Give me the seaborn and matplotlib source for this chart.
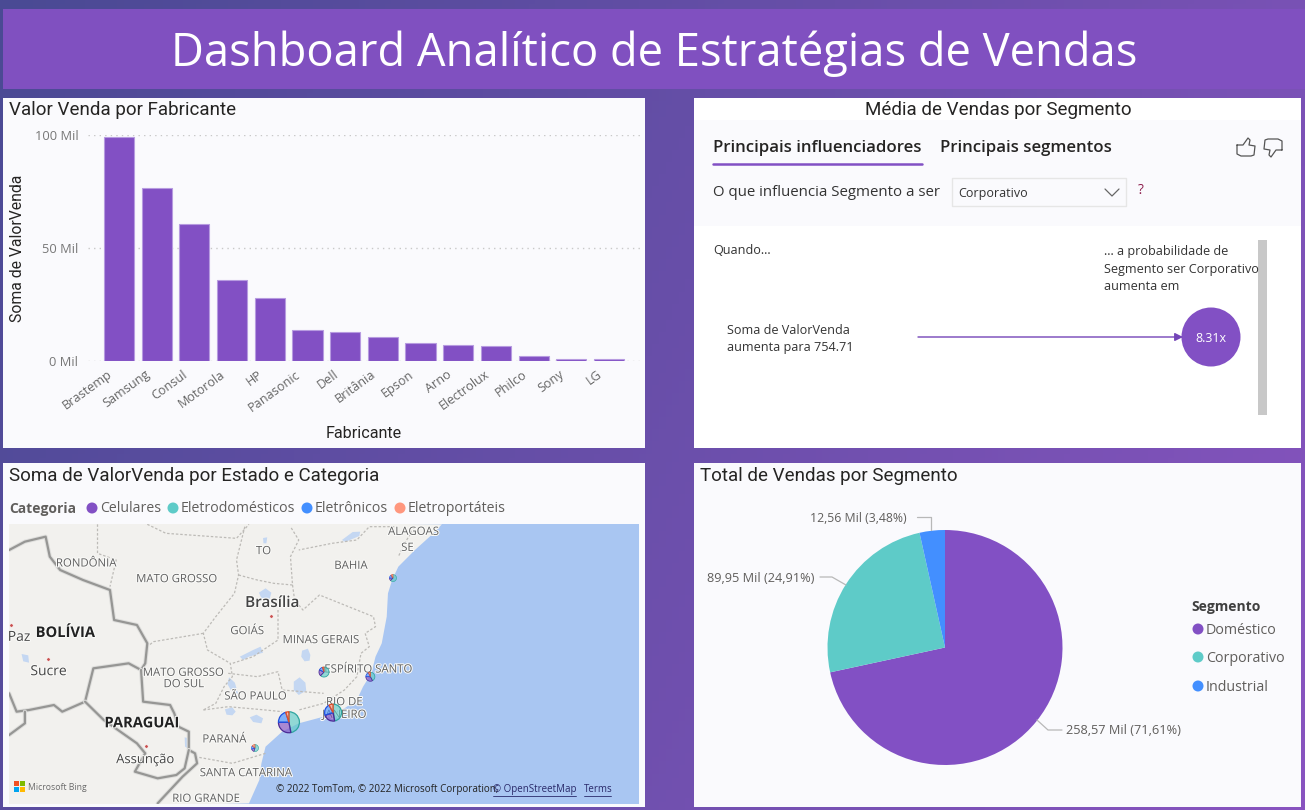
import numpy as np
import pandas as pd
import matplotlib.pyplot as plt
import matplotlib.patheffects as pe
from matplotlib.colors import LinearSegmentedColormap, to_rgba
from matplotlib.patches import Circle, Rectangle
from matplotlib.transforms import ScaledTranslation
import seaborn as sns

W, H = 1305, 810

# bar chart
fabricantes = ["Brastemp", "Samsung", "Consul", "Motorola", "HP", "Panasonic", "Dell",
               "Britânia", "Epson", "Arno", "Electrolux", "Philco", "Sony", "LG"]
valor_venda = [99100, 76400, 60600, 35700, 27700, 13700, 12800,
               10500, 8000, 6900, 6800, 2100, 900, 800]
y_ticks = [0, 50000, 100000]
y_tick_labels = ["0 Mil", "50 Mil", "100 Mil"]

# segment pie
segmentos = ["Doméstico", "Corporativo", "Industrial"]
segmento_pct = [71.61, 24.91, 3.48]
segmento_labels = ["258,57 Mil (71,61%)", "89,95 Mil (24,91%)", "12,56 Mil (3,48%)"]

# map pies, order is eletrodomesticos, celulares, eletronicos, eletroportateis
categorias = ["Celulares", "Eletrodomésticos", "Eletrônicos", "Eletroportáteis"]
estados = ["São Paulo", "Rio de Janeiro", "Minas Gerais", "Espírito Santo", "Bahia", "Paraná"]
estado_lon = [-46.6, -43.4, -44.06, -40.7, -39.06, -49.06]
estado_lat = [-23.5, -22.8, -19.86, -20.2, -13.05, -25.37]
estado_raio = [10.5, 8.5, 5, 4.5, 3.5, 3.5]
estado_eletrodom = [47, 47, 62, 42, 62, 55]
estado_celulares = [28, 23, 20, 33, 13, 15]
estado_eletronicos = [20, 22, 13, 18, 15, 15]
estado_eletroport = [5, 8, 5, 7, 10, 15]

ROXO = "#8250C4"
TEAL = "#5ECBC8"
AZUL = "#438FFF"
SALMAO = "#FF977E"
PAINEL = "#FAFAFD"
TXT = "#333333"
CINZA = "#605E5C"

# map scenery, points taken from the zoomed crop (x/2.41, 460+y/3)
costa = [(1065, 193), (1040, 225), (1000, 270), (960, 320), (945, 360), (935, 400), (932, 470),
         (920, 550), (905, 590), (895, 640), (875, 680), (860, 720), (830, 745), (780, 770),
         (720, 790), (680, 815), (640, 860), (630, 910), (625, 960), (600, 1030)]
fronteiras = [
    [(22, 270), (60, 245), (110, 230), (120, 290), (145, 330), (200, 360), (265, 390), (275, 480),
     (330, 495), (355, 550), (350, 610), (340, 630), (310, 610), (225, 625), (205, 725),
     (150, 755), (130, 735), (70, 750), (40, 755), (22, 700)],
    [(340, 630), (345, 725), (410, 735), (420, 760), (430, 800), (455, 815), (455, 870), (470, 880),
     (475, 910), (440, 950), (380, 1030)],
    [(205, 725), (250, 780), (330, 850), (350, 880), (325, 935), (380, 955), (425, 945), (445, 925), (455, 870)],
    [(22, 825), (60, 790), (60, 755)],
]
divisas = [
    [(235, 193), (235, 280), (280, 300), (265, 380)],
    [(355, 193), (400, 220), (570, 235), (600, 193)],
    [(590, 200), (570, 300), (575, 345), (565, 400), (520, 470), (490, 520), (500, 570), (555, 610),
     (560, 650), (540, 680), (520, 730), (490, 750)],
    [(575, 345), (620, 360), (660, 370), (705, 375), (700, 290), (720, 240), (700, 200)],
    [(705, 375), (710, 420), (730, 450), (770, 405), (830, 435), (900, 470), (905, 500), (880, 520),
     (890, 560), (870, 580), (860, 650), (830, 690), (780, 730), (720, 750)],
    [(490, 520), (370, 545), (355, 560)],
    [(550, 640), (620, 650), (670, 635), (680, 690), (780, 700)],
    [(490, 750), (550, 740), (640, 750), (680, 755)],
    [(470, 890), (560, 910), (640, 880)],
    [(670, 450), (670, 540), (610, 590), (560, 610)],
    [(950, 200), (890, 200), (860, 240), (800, 250), (720, 270)],
    [(1000, 200), (975, 250), (960, 290)],
]
lagos = [
    [(728, 572), (742, 566), (748, 585), (746, 602), (734, 604), (726, 590)],
    [(708, 665), (722, 652), (736, 668), (738, 692), (720, 705), (708, 690)],
    [(552, 652), (566, 668), (574, 702), (558, 694), (548, 672)],
    [(602, 772), (618, 764), (634, 775), (630, 790), (610, 786)],
    [(578, 590), (610, 570), (628, 560), (634, 578), (600, 590), (586, 600)],
    [(624, 398), (640, 385), (654, 398), (650, 416), (632, 420)],
    [(824, 240), (850, 216), (868, 215), (866, 228), (832, 246)],
    [(634, 234), (644, 232), (642, 250), (635, 250)],
    [(542, 748), (560, 742), (568, 755), (560, 766), (546, 764)],
    [(445, 832), (458, 836), (456, 868), (446, 860)],
    [(52, 582), (68, 586), (70, 608), (56, 604)],
]
mapa_textos = [
    ("ALAGOAS", 997, 217, 8.2, "#5f5f5f", "normal"), ("SE", 982, 265, 8.2, "#5f5f5f", "normal"),
    ("TO", 635, 275, 8.2, "#5f5f5f", "normal"), ("BAHIA", 846, 319, 8.2, "#5f5f5f", "normal"),
    ("RONDÔNIA", 208, 312, 8.2, "#5f5f5f", "normal"), ("MATO GROSSO", 426, 359, 8.2, "#5f5f5f", "normal"),
    ("Brasília", 656, 429, 11, "#444444", "semibold"), ("GOIÁS", 596, 515, 8.2, "#5f5f5f", "normal"),
    ("MINAS GERAIS", 774, 542, 8.2, "#5f5f5f", "normal"), ("BOLÍVIA", 158, 519, 10.6, "#222222", "bold"),
    ("Paz", 46, 532, 10, "#444444", "normal"), ("Sucre", 117, 635, 10, "#444444", "normal"),
    ("MATO GROSSO", 442, 640, 8.2, "#5f5f5f", "normal"), ("DO SUL", 443, 674, 8.2, "#5f5f5f", "normal"),
    ("ESPÍRITO SANTO", 888, 630, 8.2, "#5f5f5f", "normal"), ("SÃO PAULO", 616, 711, 8.2, "#5f5f5f", "normal"),
    ("RIO DE", 830, 728, 8.2, "#5f5f5f", "normal"), ("JANEIRO", 830, 766, 8.2, "#5f5f5f", "normal"),
    ("PARAGUAI", 342, 790, 10.6, "#222222", "bold"), ("PARANÁ", 541, 840, 8.2, "#5f5f5f", "normal"),
    ("Assunção", 350, 899, 9.4, "#444444", "normal"), ("SANTA CATARINA", 593, 941, 8.2, "#5f5f5f", "normal"),
    ("RIO GRANDE", 497, 1018, 8.2, "#5f5f5f", "normal"),
]
cidades = [(654, 468), (26, 496), (116, 597), (352, 857)]


def zx(x):
    return x / 2.41


def zy(y):
    return 460 + y / 3


def px_axes(x, y, w, h, zorder=1):
    a = fig.add_axes([x / W, 1 - (y + h) / H, w / W, h / H], zorder=zorder)
    return a


sns.set_theme(style="white")
plt.rcParams["font.family"] = ["Open Sans", "DejaVu Sans"]
plt.rcParams["axes.unicode_minus"] = False

fig = plt.figure(figsize=(W / 100, H / 100), dpi=100)

# background with gradient
bg = px_axes(0, 0, W, H, zorder=0)
cmap_bg = LinearSegmentedColormap.from_list("fundo", ["#4A4A94", "#9055C5"])
xx, yy = np.meshgrid(np.linspace(0, 1, 200), np.linspace(0, 1, 200))
bg.imshow(xx * 0.67 + yy * 0.22, cmap=cmap_bg, extent=(0, W, H, 0), aspect="auto", vmin=0, vmax=1)
bg.set_xlim(0, W)
bg.set_ylim(H, 0)
bg.axis("off")

# banner
bg.add_patch(Rectangle((3, 9), W - 3, 80, color="#8050C0", lw=0))

# panels
bg.add_patch(Rectangle((3, 98), 642, 350, color=PAINEL, lw=0))
bg.add_patch(Rectangle((694, 98), 607, 22, color="white", lw=0))
bg.add_patch(Rectangle((694, 120), 607, 106, color=PAINEL, lw=0))
bg.add_patch(Rectangle((694, 226), 607, 222, color="white", lw=0))
bg.add_patch(Rectangle((3, 463), 642, 344, color=PAINEL, lw=0))
bg.add_patch(Rectangle((694, 463), 607, 344, color=PAINEL, lw=0))

# map scenery
bg.add_patch(Rectangle((9, 524), 630, 280, color="#A9C6F2", lw=0))
clip = Rectangle((9, 524), 630, 280, transform=bg.transData)
terra = [(zx(x), zy(y)) for x, y in costa] + [(0, 810), (0, 520)]
land = bg.fill(*zip(*terra), color="#F2F1EE", lw=0)[0]
land.set_clip_path(clip)
for lago in lagos:
    lk = bg.fill([zx(p[0]) for p in lago], [zy(p[1]) for p in lago], color="#C4D7F2", lw=0)[0]
    lk.set_clip_path(clip)
for linha in divisas:
    ln, = bg.plot([zx(p[0]) for p in linha], [zy(p[1]) for p in linha], color="#BDBBB7", lw=0.9, ls=(0, (2, 1.5)))
    ln.set_clip_path(clip)
for linha in fronteiras:
    ln, = bg.plot([zx(p[0]) for p in linha], [zy(p[1]) for p in linha], color="#969694", lw=1.6,
                  path_effects=[pe.Stroke(linewidth=3, foreground="#DEDEDC"), pe.Normal()])
    ln.set_clip_path(clip)
for cx, cy in cidades:
    bg.plot(zx(cx), zy(cy), "o", color="#C9504F", ms=2.5, mec="white", mew=0.4)
for txt, tx, ty, fs, cor, peso in mapa_textos:
    bg.text(zx(tx), zy(ty), txt, fontsize=fs, color=cor, weight=peso, ha="center", va="center",
            clip_on=True, path_effects=[pe.withStroke(linewidth=1.5, foreground="#FAFAF8")])
# bing logo
for (qx, qy, qc) in [(14, 781, "#F25022"), (19.5, 781, "#7FBA00"), (14, 786.5, "#00A4EF"), (19.5, 786.5, "#FFB900")]:
    bg.add_patch(Rectangle((qx, qy), 5, 5, color=qc, lw=0))
bg.text(28, 787, "Microsoft Bing", fontsize=6.2, color="#6a6a6a", va="center")
bg.text(276, 789.5, "© 2022 TomTom, © 2022 Microsoft Corporation, ", fontsize=7.1, color="#222222", va="center")
bg.text(493, 789.5, "© OpenStreetMap", fontsize=7, color="#2a2a6a", va="center")
bg.plot([493, 576], [796, 796], color="#2a2a6a", lw=0.6)
bg.text(584, 789.5, "Terms", fontsize=7, color="#2a2a6a", va="center")
bg.plot([584, 611], [796, 796], color="#2a2a6a", lw=0.6)

# bars
df = pd.DataFrame({"Fabricante": fabricantes, "ValorVenda": valor_venda})
ax = px_axes(88, 135, 552, 226)
ax.patch.set_alpha(0)
sns.barplot(data=df, x="Fabricante", y="ValorVenda", color=ROXO, saturation=1, width=0.8,
            edgecolor="#B79BE0", linewidth=0.8, ax=ax)
ax.set_xlim(-0.82, 13.82)
ax.set_ylim(0, 100000)
ax.set_yticks(y_ticks, y_tick_labels)
ax.yaxis.grid(True, color="#C8C8C8", ls=(0, (1, 3)), lw=1)
ax.set_axisbelow(True)
sns.despine(ax=ax, left=True, bottom=True, top=True, right=True)
ax.set_xlabel("")
ax.set_ylabel("")
ax.tick_params(axis="y", length=0, pad=7, labelsize=9.3, labelcolor="#777777")
ax.tick_params(axis="x", length=0, pad=5, labelsize=9.1, labelcolor="#666666")
shift = ScaledTranslation(-12 / 100, 0, fig.dpi_scale_trans)
for lab in ax.get_xticklabels():
    lab.set_rotation(36)
    lab.set_ha("right")
    lab.set_rotation_mode("anchor")
    lab.set_transform(lab.get_transform() + shift)

# segment pie
ax_p = px_axes(827.5, 530, 235, 235)
ax_p.pie(segmento_pct, colors=[ROXO, TEAL, AZUL], startangle=90, counterclock=False, radius=1,
         wedgeprops={"linewidth": 0})
ax_p.set_xlim(-1, 1)
ax_p.set_ylim(-1, 1)

# small pies on the map
pie_cores = [TEAL, ROXO, AZUL, SALMAO]
pie_bordas = ["#2FA5A0", "#4B2A96", "#1F50E0", "#E0502A"]
for i, est in enumerate(estados):
    cx = 271 + (estado_lon[i] + 47.9) * 13.8
    cy = 616 - (estado_lat[i] + 15.8) * 13.8
    r = estado_raio[i]
    a = px_axes(cx - r - 1, cy - r - 1, 2 * r + 2, 2 * r + 2, zorder=3)
    fatias, _ = a.pie([estado_eletrodom[i], estado_celulares[i], estado_eletronicos[i], estado_eletroport[i]],
                      colors=pie_cores, startangle=90, counterclock=False, radius=r / (r + 1),
                      wedgeprops={"linewidth": min(0.9, r * 0.12)})
    for f, cor, borda in zip(fatias, pie_cores, pie_bordas):
        f.set_facecolor(to_rgba(cor, 0.65))
        f.set_edgecolor(borda)
    a.set_xlim(-1, 1)
    a.set_ylim(-1, 1)

# text and small marks on top
ov = px_axes(0, 0, W, H, zorder=2)
ov.set_xlim(0, W)
ov.set_ylim(H, 0)
ov.axis("off")
ov.patch.set_alpha(0)

ov.text(654, 54, "Dashboard Analítico de Estratégias de Vendas", fontsize=32.7, color="white",
        ha="center", va="center")

TITULO = {"fontsize": 13.5, "color": "#252423", "family": ["Roboto", "DejaVu Sans"], "va": "center"}
ov.text(9, 110, "Valor Venda por Fabricante", **TITULO)
ov.text(998, 110, "Média de Vendas por Segmento", ha="center", **TITULO)
ov.text(9, 476, "Soma de ValorVenda por Estado e Categoria", **TITULO)
ov.text(700, 476, "Total de Vendas por Segmento", **TITULO)

ov.text(18, 248, "Soma de ValorVenda", rotation=90, ha="center", va="center", fontsize=11.3,
        color="#252423", family=["Roboto", "DejaVu Sans"])
ov.text(364, 434, "Fabricante", ha="center", va="center", fontsize=11.6, color="#252423",
        family=["Roboto", "DejaVu Sans"])

# influencers panel
ov.text(713, 148, "Principais influenciadores", fontsize=12.1, weight="semibold", color="#252423", va="center")
ov.text(940, 148, "Principais segmentos", fontsize=12.1, weight="semibold", color="#252423", va="center")
ov.plot([713, 922], [164, 164], color=ROXO, lw=1.8)
ov.text(713, 192, "O que influencia Segmento a ser", fontsize=10.85, color=TXT, va="center")
ov.add_patch(Rectangle((951.5, 177.5), 174, 28, fc=PAINEL, ec="#E6E6E6", lw=1))
ov.text(958, 194, "Corporativo", fontsize=9, color=TXT, va="center")
ov.plot([1105, 1112, 1119], [189, 196, 189], color="#666666", lw=0.9)
ov.text(1141, 191, "?", fontsize=9.8, color="#8B1A4A", ha="center", va="center")
# thumbs
ov.plot([1237, 1243, 1243, 1248, 1250, 1249, 1255, 1254, 1251, 1241, 1237, 1237],
        [145, 145, 145, 138, 140, 145, 146, 155, 156, 156, 154, 145], color="#555555", lw=0.9)
ov.plot([1282, 1276, 1276, 1271, 1269, 1270, 1264, 1265, 1268, 1278, 1282, 1282],
        [150, 150, 150, 157, 155, 150, 149, 140, 139, 139, 141, 150], color="#555555", lw=0.9)

ov.text(713, 251, "Quando...", fontsize=9.1, color=TXT, va="center")
ov.text(1104, 251, "... a probabilidade de", fontsize=9.1, color=TXT, va="center")
ov.text(1104, 269, "Segmento ser Corporativo", fontsize=9.1, color=TXT, va="center")
ov.text(1104, 287, "aumenta em", fontsize=9.1, color=TXT, va="center")
ov.text(727, 330, "Soma de ValorVenda", fontsize=9.1, color=TXT, va="center")
ov.text(727, 348, "aumenta para 754.71", fontsize=9.1, color=TXT, va="center")
ov.annotate("", xy=(1183, 337), xytext=(918, 337),
            arrowprops={"arrowstyle": "-|>", "color": "#7445B8", "lw": 1, "shrinkA": 0, "shrinkB": 0, "mutation_scale": 12})
ov.add_patch(Circle((1211, 337), 29.5, color=ROXO, lw=0))
ov.text(1211, 338, "8.31x", fontsize=9, color="white", ha="center", va="center")
ov.add_patch(Rectangle((1258, 240), 9, 175, color="#C8C8C8", lw=0))

# map legend
ov.text(9, 509, "Categoria", fontsize=10, weight="bold", color=CINZA, va="center")
for lx, cat, cor in zip([92, 173, 307, 400], categorias, [ROXO, TEAL, AZUL, SALMAO]):
    ov.add_patch(Circle((lx, 508), 5.5, color=cor, lw=0))
    ov.text(lx + 8, 509, cat, fontsize=10.2, color=CINZA, va="center")

# pie legend and labels
ov.text(1191, 606.5, "Segmento", fontsize=10, weight="bold", color="#404040", va="center")
for ly, seg, cor in zip([629, 657, 686], segmentos, [ROXO, TEAL, AZUL]):
    ov.add_patch(Circle((1198, ly), 5.5, color=cor, lw=0))
    ov.text(1206, ly + 1.5, seg, fontsize=10.3, color=CINZA, va="center")
ov.text(1066, 731, segmento_labels[0], fontsize=9.2, color=CINZA, va="center")
ov.plot([1037, 1048, 1062], [720, 730, 730], color="#B8B8B8", lw=0.9)
ov.text(707, 578, segmento_labels[1], fontsize=9.2, color=CINZA, va="center")
ov.plot([820, 832, 846], [577, 577, 585], color="#B8B8B8", lw=0.9)
ov.text(810, 518, segmento_labels[2], fontsize=8.8, color=CINZA, va="center")
ov.plot([917, 931, 931], [517, 517, 530], color="#B8B8B8", lw=0.9)

fig.savefig("out.png", dpi=100)
plt.close(fig)
